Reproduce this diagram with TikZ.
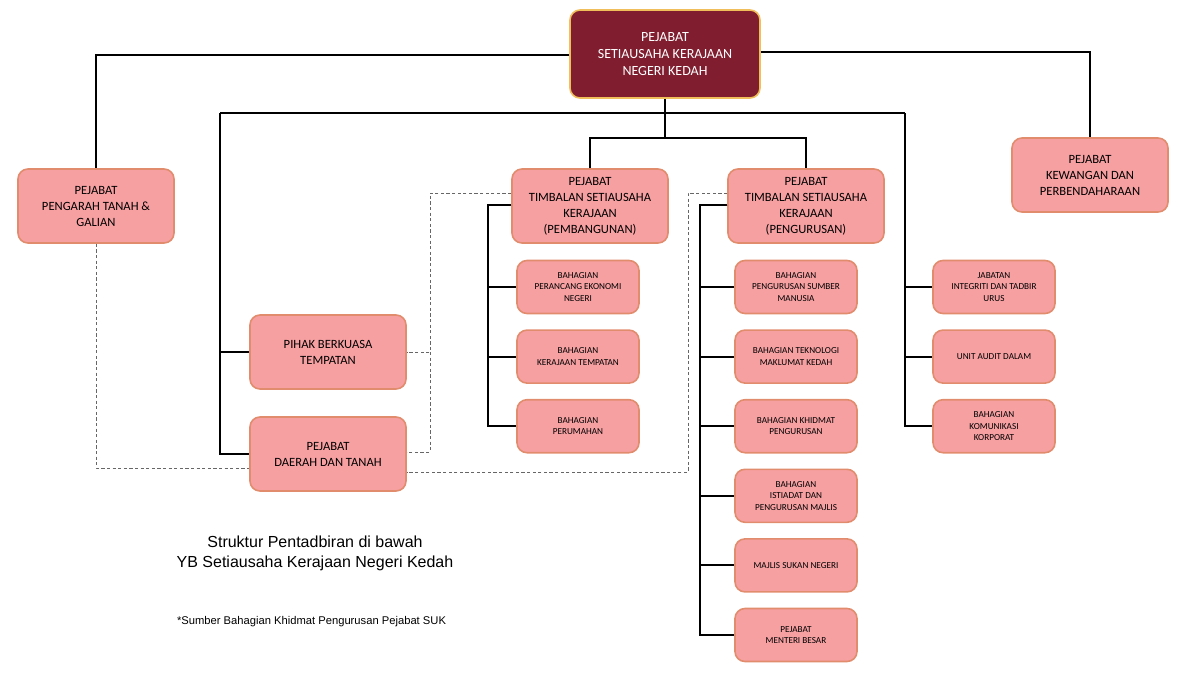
\documentclass[tikz,border=0pt]{standalone}
\usepackage{fontspec}
\setmainfont{Carlito}
\newfontfamily\capfont{Liberation Sans}
\usetikzlibrary{positioning}
\definecolor{boxpink}{RGB}{247,160,162}
\definecolor{boxedge}{RGB}{226,140,110}
\definecolor{topred}{RGB}{128,30,48}
\definecolor{topedge}{RGB}{240,190,90}
\begin{document}
\begin{tikzpicture}[x=0.5pt,y=-0.5pt,
	basic/.style  = {draw=boxedge, fill=boxpink, rounded corners=5pt, line width=0.8pt, align=center, inner sep=1pt},
	root/.style   = {basic, draw=topedge, fill=topred, text=white, minimum width=95pt, minimum height=44pt, font=\fontsize{7}{8.5}\selectfont},
	office/.style = {basic, minimum width=78pt, minimum height=37pt, font=\fontsize{6.3}{8}\selectfont},
	unit/.style   = {basic, minimum width=61pt, minimum height=26.5pt, font=\fontsize{4.6}{5.8}\selectfont},
	link/.style   = {draw, line width=1pt},
	dotted link/.style = {draw=gray!80!black, dash pattern=on 1.6pt off 1.2pt, line width=0.5pt}]
	\useasboundingbox (0,0) rectangle (1200,675);

	% top of the chart
	\node[root] (suk) at (665,54) {PEJABAT\\SETIAUSAHA KERAJAAN\\NEGERI KEDAH};

	% offices of the first level
	\node[office] (ptg) at (96,206) {PEJABAT\\PENGARAH TANAH \&\\GALIAN};
	\node[office] (kew) at (1090,175) {PEJABAT\\KEWANGAN DAN\\PERBENDAHARAAN};
	\node[office] (pbt) at (328,352) {PIHAK BERKUASA\\TEMPATAN};
	\node[office] (pdt) at (328,454) {PEJABAT\\DAERAH DAN TANAH};
	\node[office] (tsp) at (590,206) {PEJABAT\\TIMBALAN SETIAUSAHA\\KERAJAAN\\(PEMBANGUNAN)};
	\node[office] (tsu) at (806,206) {PEJABAT\\TIMBALAN SETIAUSAHA\\KERAJAAN\\(PENGURUSAN)};

	% units, relatively positioned
	\begin{scope}[every node/.style={unit}]
		\node (p1) at (578,287) {BAHAGIAN\\PERANCANG EKONOMI\\NEGERI};
		\node [below=7.5pt of p1] (p2) {BAHAGIAN\\KERAJAAN TEMPATAN};
		\node [below=7.5pt of p2] (p3) {BAHAGIAN\\PERUMAHAN};
		\node (u1) at (796,287) {BAHAGIAN\\PENGURUSAN SUMBER\\MANUSIA};
		\node [below=7.5pt of u1] (u2) {BAHAGIAN TEKNOLOGI\\MAKLUMAT KEDAH};
		\node [below=7.5pt of u2] (u3) {BAHAGIAN KHIDMAT\\PENGURUSAN};
		\node [below=7.5pt of u3] (u4) {BAHAGIAN\\ISTIADAT DAN\\PENGURUSAN MAJLIS};
		\node [below=7.5pt of u4] (u5) {MAJLIS SUKAN NEGERI};
		\node [below=7.5pt of u5] (u6) {PEJABAT\\MENTERI BESAR};
		\node (r1) at (994,287) {JABATAN\\INTEGRITI DAN TADBIR\\URUS};
		\node [below=7.5pt of r1] (r2) {UNIT AUDIT DALAM};
		\node [below=7.5pt of r2] (r3) {BAHAGIAN\\KOMUNIKASI\\KORPORAT};
	\end{scope}

	% captions
	\node[font=\capfont\fontsize{8}{10}\selectfont, align=center] (cap) at (315,553) {Struktur Pentadbiran di bawah\\YB Setiausaha Kerajaan Negeri Kedah};
	\node[font=\capfont\fontsize{5.6}{7}\selectfont, anchor=west] (src) at (170,622) {*Sumber Bahagian Khidmat Pengurusan Pejabat SUK};

	% solid lines from the top
	\coordinate (bus) at (665,113);
	\coordinate (bus2) at (665,138);
	\path[link] (suk.west |- 0,55) -| (ptg.north);
	\path[link] (suk.east |- 0,52) -| (kew.north);
	\path[link] (suk.south) -- (bus2);
	\path[link] (220,113) -- (905,113);
	\path[link] (tsp.north) |- (bus2) -| (tsu.north);
	\path[link] (220,113) |- (pbt.west);
	\path[link] (220,113) |- (pdt.west);
	\foreach \value in {1,2,3}
		\path[link] (905,113) |- (r\value.west);

	% lines from the deputies to their units
	\foreach \value in {1,2,3}
		\path[link] (tsp.west |- 0,205) -| (488,205) |- (p\value.west);
	\foreach \value in {1,...,6}
		\path[link] (tsu.west |- 0,205) -| (700,205) |- (u\value.west);

	% dotted lines
	\path[dotted link] (ptg.south) |- (pdt.west |- 0,468);
	\path[dotted link] (tsp.west |- 0,193) -| (430,193) |- (pbt.east);
	\path[dotted link] (430,352) |- (pdt.east |- 0,452);
	\path[dotted link] (tsu.west |- 0,193) -| (688,193) |- (pdt.east |- 0,472);
\end{tikzpicture}
\end{document}
